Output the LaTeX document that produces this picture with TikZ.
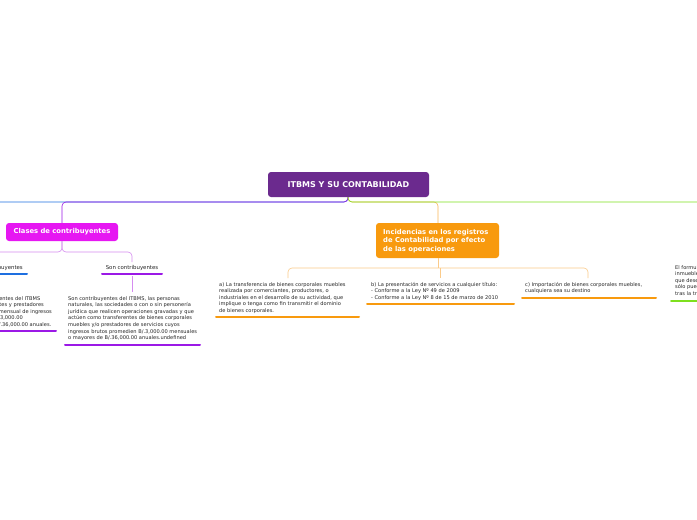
\documentclass[tikz,border=0pt]{standalone}
\usepackage{fontspec}
\setmainfont{DejaVu Sans}
\definecolor{rootc}{HTML}{6B2A8E}
\definecolor{magc}{HTML}{E617F2}
\definecolor{orc}{HTML}{F89A0E}
\definecolor{lorc}{HTML}{FBCB8A}
\definecolor{lpur}{HTML}{D58CF0}
\definecolor{bluec}{HTML}{1E6FE0}
\definecolor{purc}{HTML}{9B19E6}
\definecolor{grc}{HTML}{7EE01E}
\begin{document}
\begin{tikzpicture}[x=1pt,y=-1pt,
  box/.style={rounded corners=3pt,inner sep=0pt,font=\fontsize{6.8}{8}\selectfont\bfseries,text=white,anchor=north west},
  txt/.style={anchor=north west,inner sep=0pt,align=left,font=\fontsize{5.1}{6.6}\selectfont,text=black!85},
  rtxt/.style={anchor=north east,inner sep=0pt,font=\fontsize{5.1}{6.6}\selectfont,text=black!85},
  ul/.style={line width=2pt,line cap=round},
  con/.style={line width=0.6pt,rounded corners=4pt}]
\useasboundingbox (0,0) rectangle (697,520);
\clip (0,0) rectangle (697,520);
\fill[white] (0,0) rectangle (697,520);
% connectors
\coordinate (rb) at (348,197);
\draw[con,bluec] (rb) |- (0,202);
\draw[con,purc] (rb) |- (62,202) -- (62,223);
\draw[con,orc!70] (rb) |- (438,202) -- (438,223);
\draw[con,grc] (rb) |- (697,202);
% root
\fill[rootc,rounded corners=3pt] (268,172) rectangle (429,197);
\node[box,anchor=center,font=\fontsize{8}{9}\selectfont\bfseries] (root) at (348.5,185) {ITBMS Y SU CONTABILIDAD};
% clases
\fill[magc,rounded corners=3pt] (6,223) rectangle (118,241);
\node[box,anchor=center] (cl) at (62,232) {Clases de contribuyentes};
\draw[con,lpur] (62,241) |- (0,252);
\draw[con,lpur] (62,241) -- (62,252) -| (132,262);
\node[rtxt,font=\fontsize{5.4}{6}\selectfont] (nc) at (23,265) {No son contribuyentes};
\draw[ul,bluec] (-5,274) -- (27,274);
\node[anchor=center,inner sep=0pt,font=\fontsize{5.4}{6}\selectfont,text=black!85] (sc) at (132,268) {Son contribuyentes};
\draw[ul,purc] (102,274) -- (162,274);
\draw[con,lpur] (132,276) -- (132,292);
\node[txt] (sct) at (68,296) {Son contribuyentes del ITBMS, las personas\\naturales, las sociedades o con o sin personería\\jurídica que realicen operaciones gravadas y que\\actúen como transferentes de bienes corporales\\muebles y/o prestadores de servicios cuyos\\ingresos brutos promedien B/.3,000.00 mensuales\\o mayores de B/.36,000.00 anuales.undefined};
\draw[ul,purc] (65,345) -- (200,345);
\node[rtxt] at (40.5,296) {No son contribuyentes del ITBMS};
\node[rtxt] at (44,302.6) {los comerciantes y prestadores};
\node[rtxt] at (52,309.2) {con un promedio mensual de ingresos};
\node[rtxt] at (23,315.8) {menor de B/.3,000.00};
\node[rtxt] at (51.5,322.4) {o menores de B/.36,000.00 anuales.};
\draw[ul,purc] (-5,331) -- (56,331);
% incidencias
\fill[orc,rounded corners=3pt] (376,223) rectangle (499,258);
\node[box,align=left,font=\fontsize{6.8}{8.4}\selectfont\bfseries] (inc) at (383,229) {Incidencias en los registros\\de Contabilidad por efecto\\de las operaciones};
\draw[con,lorc] (438,258) -- (438,268);
\draw[con,lorc] (288,278) |- (588,268) -- (588,278);
\draw[con,lorc] (440,268) -- (440,278);
\node[txt] (a) at (219,282) {a) La transferencia de bienes corporales muebles\\realizada por comerciantes, productores, o\\industriales en el desarrollo de su actividad, que\\implique o tenga como fin transmitir el dominio\\de bienes corporales.};
\draw[ul,orc] (216,317) -- (359,317);
\node[txt] (b) at (371,282) {b) La presentación de servicios a cualquier título:\\- Conforme a la Ley Nº 49 de 2009\\- Conforme a la Ley Nº 8 de 15 de marzo de 2010};
\draw[ul,orc] (367,304) -- (514,304);
\node[txt] (c) at (525,282) {c) Importación de bienes corporales muebles,\\cualquiera sea su destino};
\draw[ul,orc] (522,298) -- (656,298);
% right
\node[txt] (r) at (675,265) {El formulario\\inmuebles\\que deseen\\sólo pueden\\tras la transferencia};
\draw[ul,grc] (671,301) -- (705,301);
\end{tikzpicture}
\end{document}
